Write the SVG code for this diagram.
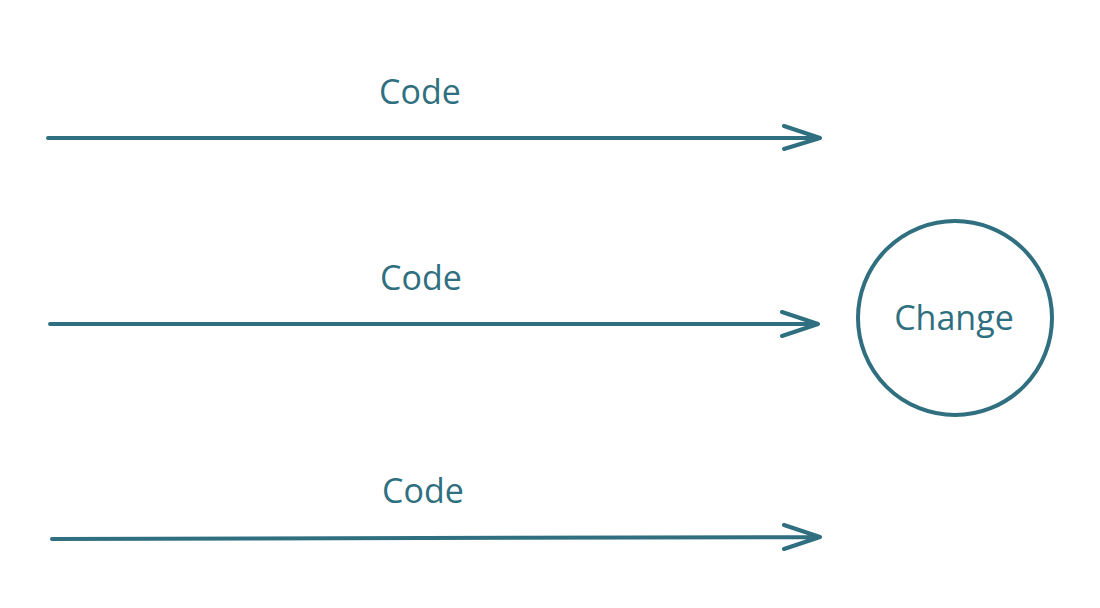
<svg xmlns="http://www.w3.org/2000/svg" width="1100" height="608" viewBox="0 0 1100 608">
<style>
.l{stroke:#2f6f80;stroke-width:4;fill:none;stroke-linecap:round;stroke-linejoin:round}
.t{fill:#2f6f80;font-family:"Open Sans",sans-serif;font-size:34px;text-anchor:middle}
</style>
<rect width="1100" height="608" fill="#fff"/>
<g id="connectors">
<path class="l" d="M48 138 L820 138 M784 126 L820 138 L784 149"/>
<path class="l" d="M50 324 L818 324 M782 312 L818 324 L782 336"/>
<path class="l" d="M52 539 L820 537 M784 525 L820 537 L784 549"/>
</g>
<g id="label1"><text class="t" x="420" y="104">Code</text></g>
<g id="label2"><text class="t" x="421" y="290">Code</text></g>
<g id="label3"><text class="t" x="423" y="503">Code</text></g>
<g id="change">
<circle class="l" cx="955" cy="318" r="97"/>
<text class="t" x="954" y="330">Change</text>
</g>
</svg>
